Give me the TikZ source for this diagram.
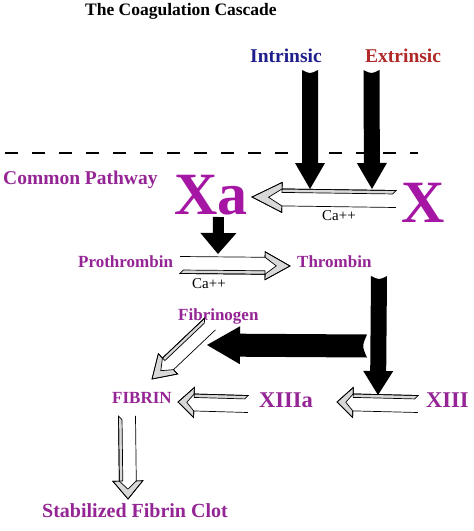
\documentclass[tikz,border=0pt]{standalone}
\usepackage{fontspec}
\setmainfont{Liberation Serif}
\usetikzlibrary{calc}
\definecolor{lblpurple}{HTML}{952595}
\definecolor{bigpurple}{HTML}{A516A5}
\definecolor{intblue}{HTML}{1E1E8C}
\definecolor{extred}{HTML}{B02828}
\definecolor{arrgray}{HTML}{D8D8D8}
\newcommand\setfs[1]{\fontsize{#1}{#1}\selectfont}
% hollow (3D-looking) arrow: tail, tip, half body width, head length, head half width
\newcommand\hollowarr[5]{%
 \coordinate (hb) at ($(#2)!#4pt!(#1)$);
 \coordinate (tL) at ($(#1)!#3pt!90:(#2)$);
 \coordinate (tR) at ($(#1)!#3pt!-90:(#2)$);
 \coordinate (bL) at ($(hb)!#3pt!90:(#2)$);
 \coordinate (bR) at ($(hb)!#3pt!-90:(#2)$);
 \coordinate (hL) at ($(hb)!#5pt!90:(#2)$);
 \coordinate (hR) at ($(hb)!#5pt!-90:(#2)$);
 \coordinate (nt) at ($(hb)!0.45!(#2)$);
 \pgfmathsetmacro\inw{#3-3.5}
 \coordinate (ts) at ($(#1)!3.5pt!(#2)$);
 \coordinate (tRi) at ($(ts)!\inw pt!-90:(#2)$);
 \coordinate (bRi) at ($(hb)!\inw pt!-90:(#2)$);
 \fill[white] (tL) -- (bL) -- (hL) -- (#2) -- (hR) -- (bR) -- (tR) -- cycle;
 \filldraw[fill=arrgray, harrline] (hL) -- (#2) -- (hR) -- (bR) -- (nt) -- (bL) -- cycle;
 \filldraw[fill=arrgray, harrline] (tR) -- (bR) -- (bRi) -- (tRi) -- cycle;
 \draw[harrline] (tL) -- (bL) -- (hL) -- (#2) -- (hR) -- (bR) -- (tR);
}
% solid black arrow: tail, tip, half body width, head length, head half width, notch depth
\newcommand\blackarr[6]{%
 \coordinate (hb) at ($(#2)!#4pt!(#1)$);
 \coordinate (tL) at ($(#1)!#3pt!90:(#2)$);
 \coordinate (tR) at ($(#1)!#3pt!-90:(#2)$);
 \coordinate (bL) at ($(hb)!#3pt!90:(#2)$);
 \coordinate (bR) at ($(hb)!#3pt!-90:(#2)$);
 \coordinate (hL) at ($(hb)!#5pt!90:(#2)$);
 \coordinate (hR) at ($(hb)!#5pt!-90:(#2)$);
 \coordinate (nc) at ($(#1)!#6pt!(#2)$);
 \fill[black] (tL) -- (bL) -- (hL) -- (#2) -- (hR) -- (bR) -- (tR) .. controls (nc) .. (tL) -- cycle;
}
\begin{document}
\begin{tikzpicture}[x=1pt,y=-1pt,
  harrline/.style={draw=black, line width=0.7pt, line join=miter},
  lbl/.style={anchor=base west, inner sep=0pt, text=lblpurple},
  big/.style={anchor=base west, inner sep=0pt, text=bigpurple, font=\bfseries\setfs{60}},
  catext/.style={anchor=base west, inner sep=0pt, text=black, font=\setfs{15}}]
\useasboundingbox[fill=white] (0,0) rectangle (474,531);

% texts
\node[anchor=base west, inner sep=0pt, font=\bfseries\setfs{17.5}] (title) at (85,15.5) {The Coagulation Cascade};
\node[anchor=base west, inner sep=0pt, text=intblue, font=\bfseries\setfs{19.5}] (intr) at (250,62) {Intrinsic};
\node[anchor=base west, inner sep=0pt, text=extred, font=\bfseries\setfs{19.5}] (extr) at (365,62) {Extrinsic};
\node[lbl, font=\bfseries\setfs{19.5}] (common) at (3,184) {Common Pathway};
\node[big] (xa) at (174,214) {Xa};
\node[big] (x) at (401,222) {X};
\node[catext] (ca1) at (322,220) {Ca++};
\node[lbl, font=\bfseries\setfs{17}] (prot) at (78,267) {Prothrombin};
\node[catext] (ca2) at (192,288) {Ca++};
\node[lbl, font=\bfseries\setfs{17}] (thr) at (297,267) {Thrombin};
\node[lbl, font=\bfseries\setfs{17}] (fgen) at (178,320) {Fibrinogen};
\node[lbl, font=\bfseries\setfs{17}] (fib) at (112,403) {FIBRIN};
\node[lbl, font=\bfseries\setfs{22.5}] (x13a) at (259,407) {XIIIa};
\node[lbl, font=\bfseries\setfs{22.5}] (x13) at (426,407) {XIII};
\node[lbl, font=\bfseries\setfs{20}] (clot) at (42,517) {Stabilized Fibrin Clot};

% dashed separator
\coordinate (dl) at (5,153);
\coordinate (dr) at (418,153);
\draw[line width=2pt, dash pattern=on 13pt off 14pt] (dl) -- (dr);

% arrow end points
\coordinate (h1t) at (396,199); \coordinate (h1h) at (252,197);
\coordinate (h2t) at (180,265); \coordinate (h2h) at (290,266);
\coordinate (h3t) at (210,324); \coordinate (h3h) at (152,379);
\coordinate (h4t) at (248,404); \coordinate (h4h) at (178,402);
\coordinate (h5t) at (418,404); \coordinate (h5h) at (337,402);
\coordinate (h6t) at (127,416); \coordinate (h6h) at (128,499);

\coordinate (biT) at (310,70);   \coordinate (biH) at (310,189);
\coordinate (beT) at (371.5,70); \coordinate (beH) at (372,189);
\coordinate (bxT) at (218.5,217); \coordinate (bxH) at (218,254);
\coordinate (btT) at (379,276);  \coordinate (btH) at (378,395);
\coordinate (bfT) at (367,346);  \coordinate (bfH) at (207,345);

% hollow arrows
\hollowarr{h1t}{h1h}{8.5}{30}{15}
\hollowarr{h2t}{h2h}{8.5}{25}{14}
\hollowarr{h3t}{h3h}{8}{22}{14}
\hollowarr{h4t}{h4h}{8.5}{16}{15}
\hollowarr{h5t}{h5h}{8.5}{16}{15}
\hollowarr{h6t}{h6h}{8.5}{18}{15}

% black arrows
\blackarr{biT}{biH}{8}{26}{15}{4}
\blackarr{beT}{beH}{8}{26}{15}{4}
\blackarr{bxT}{bxH}{5.5}{21}{18}{0}
\blackarr{btT}{btH}{8}{24}{15}{4}
\blackarr{bfT}{bfH}{11.5}{33}{19}{5}
\end{tikzpicture}
\end{document}
